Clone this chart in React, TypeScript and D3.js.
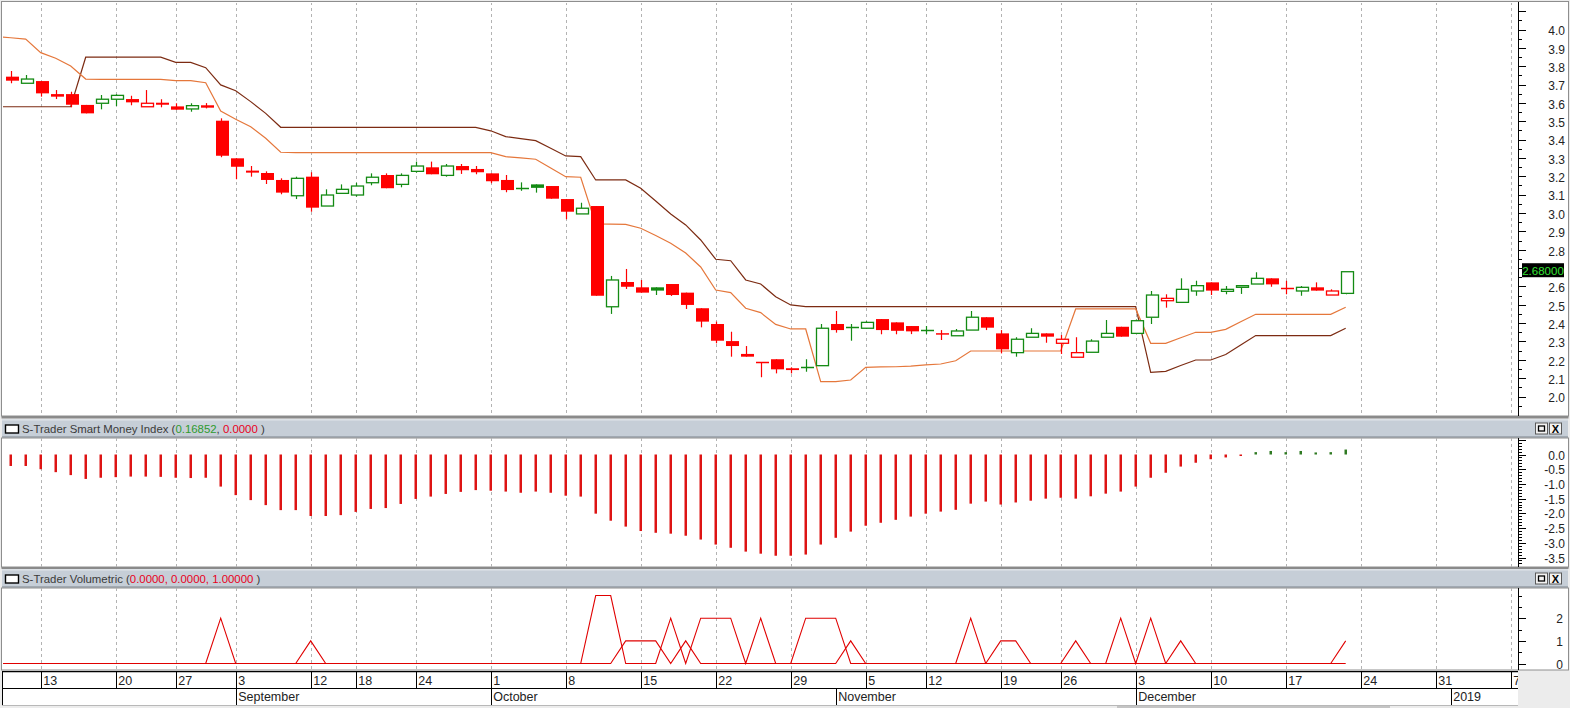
import React from "react";
import * as d3 from "d3";

// ---------------- DATA (daily sessions, 9 Aug 2018 .. 21 Dec 2018; index 0 = 9 Aug) ----------------
const openP = [3.743, 3.707, 3.719, 3.648, 3.648, 3.589, 3.598, 3.620, 3.621, 3.579,
  3.601, 3.581, 3.567, 3.587, 3.503, 3.298, 3.231, 3.218, 3.180, 3.094,
  3.198, 3.038, 3.107, 3.098, 3.165, 3.207, 3.156, 3.227, 3.249, 3.205,
  3.256, 3.240, 3.216, 3.180, 3.132, 3.156, 3.147, 3.076, 2.995, 3.038,
  2.489, 2.624, 2.595, 2.595, 2.613, 2.566, 2.481, 2.395, 2.302, 2.232,
  2.186, 2.203, 2.154, 2.157, 2.168, 2.395, 2.378, 2.372, 2.422, 2.404,
  2.384, 2.362, 2.345, 2.331, 2.362, 2.432, 2.344, 2.239, 2.323, 2.344,
  2.290, 2.214, 2.241, 2.323, 2.380, 2.344, 2.432, 2.522, 2.513, 2.575,
  2.622, 2.573, 2.595, 2.613, 2.644, 2.594, 2.575, 2.595, 2.553, 2.562];
const highP = [3.774, 3.752, 3.719, 3.670, 3.661, 3.589, 3.643, 3.647, 3.639, 3.670,
  3.620, 3.598, 3.598, 3.599, 3.516, 3.298, 3.256, 3.227, 3.189, 3.198,
  3.222, 3.129, 3.156, 3.165, 3.216, 3.216, 3.216, 3.280, 3.280, 3.267,
  3.267, 3.256, 3.216, 3.207, 3.167, 3.156, 3.147, 3.076, 3.056, 3.038,
  2.657, 2.695, 2.635, 2.595, 2.613, 2.566, 2.481, 2.408, 2.353, 2.275,
  2.186, 2.203, 2.159, 2.203, 2.395, 2.466, 2.395, 2.410, 2.422, 2.404,
  2.384, 2.384, 2.362, 2.368, 2.466, 2.432, 2.362, 2.323, 2.372, 2.344,
  2.335, 2.323, 2.312, 2.417, 2.380, 2.420, 2.575, 2.557, 2.644, 2.631,
  2.622, 2.602, 2.604, 2.677, 2.644, 2.631, 2.602, 2.622, 2.584, 2.680];
const lowP = [3.707, 3.707, 3.634, 3.621, 3.576, 3.543, 3.565, 3.583, 3.587, 3.579,
  3.576, 3.563, 3.552, 3.570, 3.304, 3.184, 3.198, 3.158, 3.102, 3.076,
  3.007, 3.038, 3.107, 3.089, 3.151, 3.135, 3.140, 3.220, 3.211, 3.198,
  3.213, 3.211, 3.162, 3.113, 3.121, 3.111, 3.078, 2.966, 2.995, 2.549,
  2.450, 2.586, 2.566, 2.553, 2.548, 2.477, 2.377, 2.290, 2.217, 2.217,
  2.105, 2.126, 2.126, 2.135, 2.168, 2.348, 2.304, 2.368, 2.339, 2.339,
  2.340, 2.340, 2.308, 2.331, 2.362, 2.362, 2.235, 2.217, 2.323, 2.293,
  2.232, 2.214, 2.241, 2.323, 2.326, 2.344, 2.395, 2.484, 2.513, 2.549,
  2.553, 2.557, 2.559, 2.613, 2.598, 2.557, 2.549, 2.577, 2.553, 2.557];
const closeP = [3.721, 3.730, 3.652, 3.634, 3.590, 3.543, 3.620, 3.641, 3.603, 3.598,
  3.590, 3.563, 3.585, 3.574, 3.312, 3.252, 3.220, 3.180, 3.111, 3.189,
  3.029, 3.098, 3.129, 3.147, 3.195, 3.135, 3.205, 3.256, 3.211, 3.256,
  3.233, 3.222, 3.173, 3.125, 3.134, 3.137, 3.078, 3.007, 3.026, 2.549,
  2.635, 2.598, 2.566, 2.577, 2.553, 2.499, 2.408, 2.304, 2.275, 2.217,
  2.184, 2.148, 2.144, 2.159, 2.372, 2.362, 2.380, 2.404, 2.362, 2.358,
  2.355, 2.358, 2.337, 2.357, 2.432, 2.375, 2.257, 2.312, 2.344, 2.326,
  2.312, 2.239, 2.302, 2.344, 2.326, 2.413, 2.553, 2.535, 2.584, 2.604,
  2.577, 2.584, 2.604, 2.644, 2.611, 2.592, 2.595, 2.577, 2.575, 2.680];

// Stop lines: first value belongs to the session before the visible window (8 Aug)
const fastStop = [3.962,
  3.955, 3.948, 3.874, 3.843, 3.801, 3.730, 3.728, 3.728, 3.728, 3.728,
  3.728, 3.721, 3.721, 3.710, 3.556, 3.511, 3.470, 3.407, 3.331, 3.329,
  3.329, 3.329, 3.329, 3.329, 3.329, 3.329, 3.329, 3.329, 3.329, 3.329,
  3.329, 3.329, 3.329, 3.307, 3.300, 3.293, 3.245, 3.198, 3.195, 2.940,
  2.939, 2.938, 2.917, 2.877, 2.835, 2.782, 2.706, 2.580, 2.566, 2.481,
  2.457, 2.393, 2.368, 2.368, 2.081, 2.081, 2.090, 2.159, 2.161, 2.162,
  2.166, 2.172, 2.177, 2.195, 2.248, 2.248, 2.248, 2.248, 2.248, 2.248,
  2.248, 2.477, 2.477, 2.477, 2.477, 2.477, 2.290, 2.290, 2.320, 2.350,
  2.350, 2.366, 2.407, 2.448, 2.448, 2.448, 2.448, 2.448, 2.448, 2.486];
const slowStop = [3.579,
  3.579, 3.579, 3.579, 3.579, 3.579, 3.849, 3.849, 3.849, 3.849, 3.849,
  3.849, 3.821, 3.821, 3.792, 3.698, 3.666, 3.607, 3.543, 3.467, 3.467,
  3.467, 3.467, 3.467, 3.467, 3.467, 3.467, 3.467, 3.467, 3.467, 3.467,
  3.467, 3.467, 3.448, 3.416, 3.405, 3.394, 3.353, 3.311, 3.307, 3.180,
  3.180, 3.180, 3.135, 3.065, 2.995, 2.935, 2.853, 2.748, 2.740, 2.635,
  2.613, 2.544, 2.499, 2.490, 2.490, 2.490, 2.490, 2.490, 2.490, 2.490,
  2.490, 2.490, 2.490, 2.490, 2.490, 2.490, 2.490, 2.490, 2.490, 2.490,
  2.490, 2.490, 2.490, 2.490, 2.490, 2.490, 2.132, 2.137, 2.169, 2.199,
  2.199, 2.229, 2.281, 2.332, 2.332, 2.332, 2.332, 2.332, 2.332, 2.372];

const smartMoney = [-0.39, -0.39, -0.50, -0.60, -0.70, -0.83, -0.79, -0.77, -0.75, -0.75,
  -0.76, -0.79, -0.80, -0.79, -1.09, -1.38, -1.55, -1.72, -1.89, -1.89,
  -2.09, -2.09, -2.06, -1.95, -1.85, -1.82, -1.68, -1.51, -1.43, -1.34,
  -1.27, -1.21, -1.23, -1.26, -1.30, -1.26, -1.30, -1.40, -1.43, -2.01,
  -2.25, -2.45, -2.60, -2.66, -2.69, -2.76, -2.89, -3.06, -3.17, -3.30,
  -3.37, -3.44, -3.44, -3.40, -3.06, -2.83, -2.62, -2.42, -2.32, -2.22,
  -2.11, -2.01, -1.94, -1.88, -1.67, -1.60, -1.70, -1.63, -1.57, -1.50,
  -1.47, -1.50, -1.42, -1.33, -1.26, -1.09, -0.79, -0.62, -0.41, -0.28,
  -0.16, -0.10, -0.04, 0.08, 0.12, 0.08, 0.12, 0.07, 0.08, 0.16852];
const smartMoneySignal = 0.0;

// Volumetric series: first value belongs to the session before the window (8 Aug)
const volumetricA = [0,
  0, 0, 0, 0, 0, 0, 0, 0, 0, 0,
  0, 0, 0, 0, 2, 0, 0, 0, 0, 0,
  0, 0, 0, 0, 0, 0, 0, 0, 0, 0,
  0, 0, 0, 0, 0, 0, 0, 0, 0, 3,
  3, 0, 0, 0, 2, 0, 2, 2, 2, 0,
  2, 0, 0, 2, 2, 2, 0, 0, 0, 0,
  0, 0, 0, 0, 2, 0, 0, 0, 0, 0,
  0, 0, 0, 0, 2, 0, 2, 0, 0, 0,
  0, 0, 0, 0, 0, 0, 0, 0, 0, 0];
const volumetricB = [0,
  0, 0, 0, 0, 0, 0, 0, 0, 0, 0,
  0, 0, 0, 0, 0, 0, 0, 0, 0, 0,
  1, 0, 0, 0, 0, 0, 0, 0, 0, 0,
  0, 0, 0, 0, 0, 0, 0, 0, 0, 0,
  0, 1, 1, 1, 0, 1, 0, 0, 0, 0,
  0, 0, 0, 0, 0, 0, 1, 0, 0, 0,
  0, 0, 0, 0, 0, 0, 1, 1, 0, 0,
  0, 1, 0, 0, 0, 0, 0, 0, 1, 0,
  0, 0, 0, 0, 0, 0, 0, 0, 0, 1];
const LINE_START = -1;

// x-axis: weekly ticks (session index, label) and month starts
const weekTickIndex = [2, 7, 11, 15, 20, 23, 27, 32, 37, 42, 47, 52, 57, 61, 66, 70, 75, 80, 85, 90, 95, 100];
const weekTickLabel = ["13", "20", "27", "3", "12", "18", "24", "1", "8", "15", "22", "29", "5", "12", "19", "26", "3", "10", "17", "24", "31", "7"];
const monthIndex = [15, 32, 55, 75, 96];
const monthLabel = ["September", "October", "November", "December", "2019"];

const lastPrice = 2.68;

// ---------------- LAYOUT ----------------
const W = 1570, H = 708;
const L = 2, R = 1518, RR = 1568;
const MAIN = { top: 2, bottom: 416 };
const P1 = { head: 419.5, top: 438, bottom: 567 };
const P2 = { head: 569.5, top: 588, bottom: 670 };
const XA = { top: 671, mid: 688, bottom: 705 };
const FONT = "'Liberation Sans', Arial, Helvetica, sans-serif";
const RED = "#ff0000";
const GREEN = "#138a13";
const px = (v: number) => Math.round(v) + 0.5;

function Header({ y, children }: { y: number; children: any }) {
  return (
    <g>
      <rect x={L} y={y} width={RR - L} height={17.5} fill="#c6ced7" />
      <line x1={L} x2={RR} y1={y + 0.5} y2={y + 0.5} stroke="#dfe4ea" />
      <line x1={L} x2={RR} y1={y + 17.5} y2={y + 17.5} stroke="#7d848c" />
      <rect x={5.5} y={y + 5.5} width={13} height={8} fill="#fff" stroke="#000" strokeWidth={1.4} />
      <text x={22} y={y + 13} fontFamily={FONT} fontSize={11.4} fill="#3a3a3a" style={{ whiteSpace: "pre" }}>
        {children}
      </text>
      <rect x={1535.5} y={y + 3.5} width={12} height={11} fill="#f2f2f2" stroke="#5a5a5a" />
      <rect x={1538.5} y={y + 6.5} width={6} height={5} fill="none" stroke="#000" strokeWidth={1.3} />
      <rect x={1549.5} y={y + 3.5} width={12} height={11} fill="#f2f2f2" stroke="#5a5a5a" />
      <text x={1555.5} y={y + 13} textAnchor="middle" fontFamily={FONT} fontSize={11} fontWeight="bold" fill="#000">X</text>
    </g>
  );
}

export default function App() {
  const x = d3.scaleLinear().domain([0, 100]).range([10.7, 1510.7]);
  const yMain = d3.scaleLinear().domain([2, 4]).range([396.5, 29.5]);
  const ySmi = d3.scaleLinear().domain([-3.5, 0]).range([557.5, 454.5]);
  const yVol = d3.scaleLinear().domain([0, 2]).range([663.5, 618.2]);

  const lineMain = d3.line<number>().x((_, k) => x(k + LINE_START)).y((v) => yMain(v));
  const lineVol = d3.line<number>().x((_, k) => x(k + LINE_START)).y((v) => yVol(v));

  const grid = (top: number, bottom: number) =>
    weekTickIndex.map((k, j) => (
      <line key={"g" + j} x1={px(x(k))} x2={px(x(k))} y1={top} y2={bottom} stroke="#b3b3b3" strokeDasharray="3,3" />
    ));

  const bw = 12;
  const candles = openP.map((o, i) => {
    const c = closeP[i], h = highP[i], l = lowP[i];
    const prev = i > 0 ? closeP[i - 1] : o;
    const up = i > 0 ? c > prev : c > o;
    const col = up ? GREEN : RED;
    const hollow = c > o;
    const cx = px(x(i));
    const yTop = yMain(Math.max(o, c));
    const yBot = yMain(Math.min(o, c));
    const bodyH = yBot - yTop;
    const left = Math.round(cx - bw / 2);
    if (bodyH < 1.2) {
      return (
        <g key={"c" + i}>
          <line x1={cx} x2={cx} y1={yMain(h)} y2={yMain(l)} stroke={col} strokeWidth={1.2} />
          <line x1={left} x2={left + bw + 1} y1={px(yTop)} y2={px(yTop)} stroke={col} strokeWidth={1.5} />
        </g>
      );
    }
    if (hollow) {
      return (
        <g key={"c" + i}>
          <line x1={cx} x2={cx} y1={yMain(h)} y2={yTop} stroke={col} strokeWidth={1.2} />
          <line x1={cx} x2={cx} y1={yBot} y2={yMain(l)} stroke={col} strokeWidth={1.2} />
          <rect x={left + 0.5} y={yTop} width={bw} height={bodyH} fill="#fff" stroke={col} strokeWidth={1.3} />
        </g>
      );
    }
    return (
      <g key={"c" + i}>
        <line x1={cx} x2={cx} y1={yMain(h)} y2={yMain(l)} stroke={col} strokeWidth={1.2} />
        <rect x={left} y={yTop} width={bw + 1} height={bodyH} fill={col} />
      </g>
    );
  });

  const mainTicks = d3.range(38, 83);
  const smiTicks = d3.range(-38, 6);
  const volTicks = d3.range(0, 7);

  const axisText = { fontFamily: FONT, fontSize: 12, fill: "#222", textAnchor: "end" as const };
  const boxY = yMain(lastPrice) - 8.5;

  return (
    <svg width={W} height={H} viewBox={`0 0 ${W} ${H}`} style={{ position: "absolute", left: 0, top: 0, display: "block" }}>
      <defs>
        <clipPath id="clipMain"><rect x={L + 1} y={MAIN.top + 1} width={R - L - 1} height={MAIN.bottom - MAIN.top - 1} /></clipPath>
        <clipPath id="clipP1"><rect x={L + 1} y={P1.top} width={R - L - 1} height={P1.bottom - P1.top} /></clipPath>
        <clipPath id="clipP2"><rect x={L + 1} y={P2.top} width={R - L - 1} height={P2.bottom - P2.top} /></clipPath>
        <clipPath id="clipX"><rect x={L} y={XA.top} width={R - L} height={XA.bottom - XA.top} /></clipPath>
      </defs>
      <rect x={0} y={0} width={W} height={H} fill="#ececec" />

      {/* ---------- main price panel ---------- */}
      <rect x={L - 0.5} y={MAIN.top - 0.5} width={RR - L + 1} height={MAIN.bottom - MAIN.top + 0.5} fill="#fff" stroke="#8e8e8e" />
      <g clipPath="url(#clipMain)">
        {grid(MAIN.top, MAIN.bottom)}
        <path d={lineMain(slowStop) || ""} fill="none" stroke="#7c2b12" strokeWidth={1.2} />
        <path d={lineMain(fastStop) || ""} fill="none" stroke="#e5773b" strokeWidth={1.2} />
        {candles}
      </g>
      <line x1={R + 0.5} x2={R + 0.5} y1={MAIN.top} y2={MAIN.bottom} stroke="#000" />
      {mainTicks.map((k) => {
        const v = k / 20;
        const y = px(yMain(v));
        if (y < MAIN.top + 2 || y > MAIN.bottom - 1) return null;
        const major = k % 2 === 0;
        const ly = yMain(v) + 5.8;
        const hidden = ly > boxY && ly - 9 < boxY + 14;
        return (
          <g key={"mt" + k}>
            <line x1={R} x2={R + (major ? 8 : 4)} y1={y} y2={y} stroke="#000" />
            {major && k >= 40 && k <= 80 && !hidden && (
              <text x={1565} y={ly} {...axisText}>{v.toFixed(1)}</text>
            )}
          </g>
        );
      })}
      <rect x={1522} y={boxY} width={42} height={14} fill="#000" />
      <text x={1543} y={yMain(lastPrice) + 2.8} textAnchor="middle" fontFamily={FONT} fontSize={11.5} fill="#35e035">
        {lastPrice.toFixed(5)}
      </text>

      {/* separator */}
      <rect x={L - 0.5} y={MAIN.bottom} width={RR - L + 1} height={2.5} fill="#8a8a8a" />

      {/* ---------- smart money panel ---------- */}
      <rect x={L - 0.5} y={P1.top} width={RR - L + 1} height={P1.bottom - P1.top} fill="#fff" stroke="#8e8e8e" />
      <Header y={P1.head}>
        {"S-Trader Smart Money Index ("}
        <tspan fill="#2e9a2e">{smartMoney[smartMoney.length - 1].toFixed(5)}</tspan>
        {", "}
        <tspan fill="#e8001c">{smartMoneySignal.toFixed(4)}</tspan>
        {" )"}
      </Header>
      <g clipPath="url(#clipP1)">
        {grid(P1.top, P1.bottom)}
        {smartMoney.map((v, i) => {
          const y0 = ySmi(0), y1 = ySmi(v);
          return (
            <rect key={"s" + i} x={x(i) - 1.2} y={Math.min(y0, y1)} width={2.5} height={Math.max(1.5, Math.abs(y1 - y0))}
              fill={v >= 0 ? "#2f7a22" : "#dd1414"} />
          );
        })}
      </g>
      <line x1={R + 0.5} x2={R + 0.5} y1={P1.top} y2={P1.bottom} stroke="#000" />
      {smiTicks.map((k) => {
        const v = k / 10;
        const y = px(ySmi(v));
        if (y < P1.top + 1 || y > P1.bottom - 1) return null;
        const major = k % 5 === 0;
        return (
          <g key={"st" + k}>
            <line x1={R} x2={R + (major ? 8 : 4)} y1={y} y2={y} stroke="#000" />
            {major && k <= 0 && k >= -35 && (
              <text x={1565} y={ySmi(v) + 5} {...axisText}>{k === 0 ? "0.0" : v.toFixed(1)}</text>
            )}
          </g>
        );
      })}
      <rect x={L - 0.5} y={P1.bottom} width={RR - L + 1} height={2} fill="#8a8a8a" />

      {/* ---------- volumetric panel ---------- */}
      <rect x={L - 0.5} y={P2.top} width={RR - L + 1} height={P2.bottom - P2.top} fill="#fff" stroke="#8e8e8e" />
      <Header y={P2.head}>
        {"S-Trader Volumetric ("}
        <tspan fill="#e8001c">{"0.0000, 0.0000, 1.00000"}</tspan>
        {" )"}
      </Header>
      <g clipPath="url(#clipP2)">
        {grid(P2.top, P2.bottom)}
        <path d={lineVol(volumetricA) || ""} fill="none" stroke="#e00000" strokeWidth={1.1} />
        <path d={lineVol(volumetricB) || ""} fill="none" stroke="#e00000" strokeWidth={1.1} />
      </g>
      <line x1={R + 0.5} x2={R + 0.5} y1={P2.top} y2={P2.bottom} stroke="#000" />
      {volTicks.map((k) => {
        const v = k / 2;
        const y = px(yVol(v));
        const major = k % 2 === 0 && k <= 4;
        return (
          <g key={"vt" + k}>
            <line x1={R} x2={R + (major ? 8 : 4)} y1={y} y2={y} stroke="#000" />
            {major && (
              <text x={1563} y={yVol(v) + 5} {...axisText}>{String(v)}</text>
            )}
          </g>
        );
      })}

      {/* ---------- x axis ---------- */}
      <rect x={L} y={XA.top} width={R - L} height={XA.bottom - XA.top} fill="#fff" />
      <g clipPath="url(#clipX)">
        <line x1={L} x2={R} y1={XA.top + 0.5} y2={XA.top + 0.5} stroke="#000" strokeWidth={1.5} />
        <line x1={L} x2={R} y1={XA.mid + 0.5} y2={XA.mid + 0.5} stroke="#000" />
        <line x1={L + 0.5} x2={L + 0.5} y1={XA.top} y2={XA.bottom} stroke="#000" />
        {weekTickIndex.map((k, j) => (
          <g key={"wx" + j}>
            <line x1={px(x(k))} x2={px(x(k))} y1={XA.top} y2={XA.mid} stroke="#000" />
            <text x={x(k) + 2.5} y={XA.mid - 3.5} fontFamily={FONT} fontSize={12.5} fill="#222">{weekTickLabel[j]}</text>
          </g>
        ))}
        {monthIndex.map((k, j) => (
          <g key={"mx" + j}>
            <line x1={px(x(k))} x2={px(x(k))} y1={XA.mid} y2={XA.bottom} stroke="#000" />
            <text x={x(k) + 2.5} y={XA.bottom - 4} fontFamily={FONT} fontSize={12.5} fill="#222">{monthLabel[j]}</text>
          </g>
        ))}
      </g>
      <line x1={L} x2={R} y1={XA.bottom + 0.5} y2={XA.bottom + 0.5} stroke="#b8b8b8" />
      <rect x={1117} y={XA.bottom + 1} width={273} height={2} fill="#c4c4c4" />
    </svg>
  );
}
